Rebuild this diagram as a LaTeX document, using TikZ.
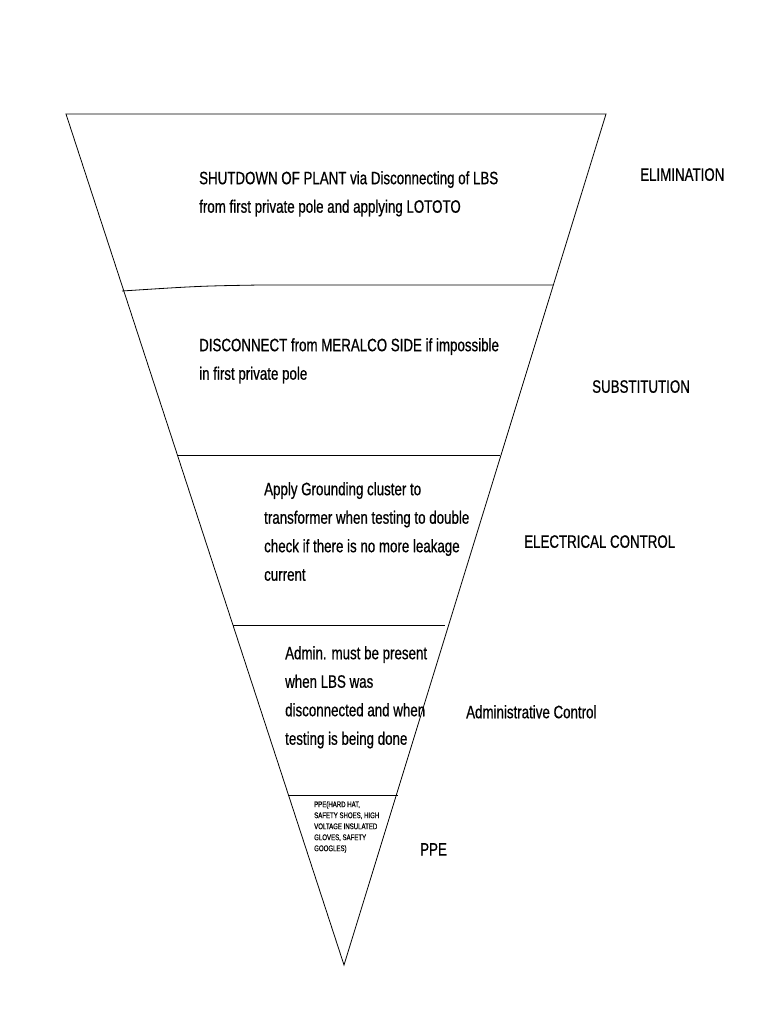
\documentclass[tikz,border=0pt]{standalone}
\usepackage{fontspec}
\setmainfont{Liberation Sans}[FakeStretch=0.74,FakeBold=0.6]
\begin{document}
\begin{tikzpicture}[x=1pt,y=-1pt,
 lbl/.style={anchor=north west,align=left,font=\fontsize{18}{28.5}\selectfont,inner sep=0},
 small/.style={anchor=north west,align=left,font=\fontsize{8.2}{11}\selectfont,inner sep=0},
 edge/.style={draw=black,line width=0.8pt}]
\useasboundingbox (0,0) rectangle (768,1024);
\coordinate (tl) at (66,114); \coordinate (tr) at (606,114); \coordinate (ap) at (344,965);
\draw[edge] (tl) -- (tr) -- (ap) -- cycle;
\coordinate (l1) at (122,291); \coordinate (r1) at (553,285);
\draw[edge] (l1) .. controls (200,286) .. (260,285) -- (r1);
\coordinate (l2) at (177,455); \coordinate (r2) at (500,455);
\draw[edge] (l2) -- (r2);
\coordinate (l3) at (233,625); \coordinate (r3) at (445,625);
\draw[edge] (l3) -- (r3);
\coordinate (l4) at (288,795); \coordinate (r4) at (398,795);
\draw[edge] (l4) -- (r4);
\node[lbl] (t1) at (199,171) {SHUTDOWN OF PLANT via Disconnecting of LBS\\from first private pole and applying LOTOTO};
\node[lbl] (t2) at (199,338) {DISCONNECT from MERALCO SIDE if impossible\\in first private pole};
\node[lbl] (t3) at (264,482) {Apply Grounding cluster to\\transformer when testing to double\\check if there is no more leakage\\current};
\node[lbl] (t4) at (285,646) {Admin. must be present\\when LBS was\\disconnected and when\\testing is being done};
\node[small] (t5) at (314,801) {PPE(HARD HAT,\\SAFETY SHOES, HIGH\\VOLTAGE INSULATED\\GLOVES, SAFETY\\GOOGLES)};
\node[lbl] (c1) at (640,168) {ELIMINATION};
\node[lbl] (c2) at (592,380) {SUBSTITUTION};
\node[lbl] (c3) at (524,535) {ELECTRICAL CONTROL};
\node[lbl] (c4) at (466,705) {Administrative Control};
\node[lbl] (c5) at (420,843) {PPE};
\end{tikzpicture}
\end{document}
